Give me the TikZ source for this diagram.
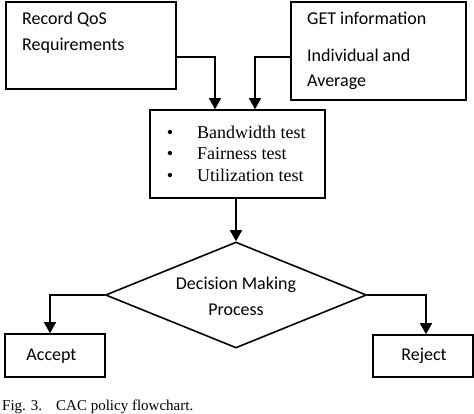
\documentclass[tikz,border=0pt]{standalone}
\usepackage{fontspec}
\setmainfont{Liberation Serif}
\newfontfamily\calfont{Carlito}
\usetikzlibrary{shapes.geometric,arrows.meta}
\tikzset{
  box/.style={draw, line width=1.6pt, inner sep=0pt},
  arr/.style={line width=1.6pt, -{Triangle[length=11pt,width=12pt]}},
  ctxt/.style={inner sep=0pt, font=\calfont\fontsize{18}{22}\selectfont},
  stxt/.style={inner sep=0pt, font=\fontsize{18}{22}\selectfont},
  captxt/.style={inner sep=0pt, font=\fontsize{15}{18}\selectfont}
}
\begin{document}
\begin{tikzpicture}[x=1pt,y=-1pt]
\useasboundingbox (0,0) rectangle (474,414);
% boxes
\node[box, minimum width=170, minimum height=87] (b1) at (91,45.5) {};
\node[box, minimum width=175, minimum height=98] (b2) at (378.5,51) {};
\node[box, minimum width=175, minimum height=88] (mid) at (237.5,154) {};
\node[box, diamond, aspect=2.46, minimum width=261, minimum height=106] (dia) at (236,295) {};
\node[box, minimum width=100, minimum height=43] (acc) at (55,355.5) {};
\node[box, minimum width=100, minimum height=42] (rej) at (423,356) {};
% texts
\node[ctxt, anchor=base west] (t1a) at (22,25) {Record QoS};
\node[ctxt, anchor=base west] (t1b) at (22,51) {Requirements};
\node[ctxt, anchor=base west] (t2a) at (307,25) {GET information};
\node[ctxt, anchor=base west] (t2b) at (307,62) {Individual and};
\node[ctxt, anchor=base west] (t2c) at (307,87) {Average};
\node[stxt, anchor=base] (u1) at (170,138.6) {\textbullet};
\node[stxt, anchor=base] (u2) at (170,160) {\textbullet};
\node[stxt, anchor=base] (u3) at (170,182) {\textbullet};
\node[stxt, anchor=base west] (m1) at (197,138.6) {Bandwidth test};
\node[stxt, anchor=base west] (m2) at (197,160) {Fairness test};
\node[stxt, anchor=base west] (m3) at (197,182) {Utilization test};
\node[ctxt, anchor=base] (d1) at (236,290) {Decision Making};
\node[ctxt, anchor=base] (d2) at (236,315) {Process};
\node[ctxt, anchor=base] (ta) at (51.5,360) {Accept};
\node[ctxt, anchor=base] (tr) at (424,360) {Reject};
\node[captxt, anchor=base west] (cap) at (2,410) {Fig. 3.\hspace{14pt}CAC policy flowchart.};
% connectors
\coordinate (j1) at (215,57);
\coordinate (j2) at (255,57);
\coordinate (ja) at (50,0);
\coordinate (jr) at (426,0);
\draw[arr] (b1.east |- j1) -| (mid.north -| j1);
\draw[arr] (b2.west |- j2) -| (mid.north -| j2);
\draw[arr] (mid.south -| dia.north) -- (dia.north);
\draw[arr] (dia.west) -| (acc.north -| ja);
\draw[arr] (dia.east) -| (rej.north -| jr);
\end{tikzpicture}
\end{document}
